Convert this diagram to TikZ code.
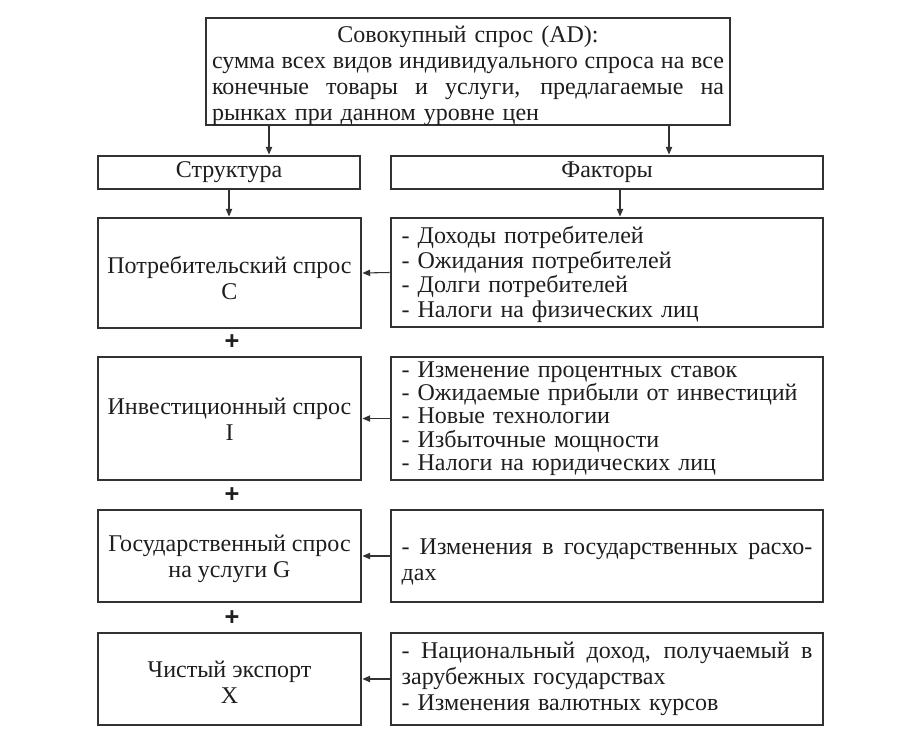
\documentclass[tikz,border=0pt]{standalone}
\usepackage{fontspec}
\setmainfont{Liberation Serif}
\newfontfamily\plusfont{Liberation Sans}
\usetikzlibrary{arrows.meta}
\definecolor{ink}{RGB}{30,30,30}
\definecolor{frame}{RGB}{50,50,50}
\newlength\topw \setlength\topw{384pt}
\newlength\facw \setlength\facw{308pt}
\newcommand\jline[2]{\leavevmode\hbox to #1{\spaceskip=0.25em plus 1fil minus 0.12em\relax #2}}
\begin{document}
\begin{tikzpicture}[x=0.75pt,y=-0.75pt,
  every node/.style={font=\fontsize{18}{18.2}\selectfont, text=ink},
  bx/.style 2 args={draw=frame, line width=2.2pt, fill=white, inner sep=0pt,
    minimum width=#1*0.75pt, minimum height=#2*0.75pt},
  lbl/.style={align=center, inner sep=0pt, font=\fontsize{18}{19.5}\selectfont},
  fac/.style={text width=308pt, align=left, inner sep=0pt},
  conn/.style={draw=frame, line width=0.8pt, -{Triangle[length=5.8pt,width=4.8pt]}},
  plus/.style={font=\plusfont\bfseries\fontsize{19}{19}\selectfont}
]
\useasboundingbox[fill=white] (0,0) rectangle (907,753);

% top box
\node[bx={524}{107},
  label={[text width=384pt, align=left, inner sep=0pt, yshift=-3pt,
          font=\fontsize{18}{19.5}\selectfont]center:{\makebox[\topw]{Совокупный спрос (AD):}\\
   \jline{\topw}{сумма всех видов индивидуального спроса на все}\\
   \jline{\topw}{конечные товары и услуги, предлагаемые на}\\
   рынках при данном уровне цен}}] (ad) at (468,71.5) {};

% second row
\node[bx={262}{33}, align=center] (st) at (229,172.5) {Структура};
\node[bx={432}{33}, align=center] (fa) at (607,172.5) {Факторы};

% left column
\node[bx={263}{110}, label={[lbl, yshift=-4pt]center:{Потребительский спрос\\C}}] (c) at (229.5,273) {};
\node[bx={263}{123}, label={[lbl, yshift=-0.5pt]center:{Инвестиционный спрос\\I}}] (i) at (229.5,418.5) {};
\node[bx={263}{92}, label={[lbl, yshift=-2.5pt]center:{Государственный спрос\\на услуги G}}] (g) at (229.5,556) {};
\node[bx={263}{92}, label={[lbl, yshift=-2.5pt]center:{Чистый экспорт\\X}}] (x) at (229.5,679) {};

% right column
\node[bx={432}{109}, label={[fac, yshift=-1.5pt, font=\fontsize{18}{18.6}\selectfont]center:{- Доходы потребителей\\- Ожидания потребителей\\- Долги потребителей\\- Налоги на физических лиц}}] (cf) at (607,272.5) {};
\node[bx={432}{123}, label={[fac, font=\fontsize{18}{17.5}\selectfont]center:{- Изменение процентных ставок\\- Ожидаемые прибыли от инвестиций\\- Новые технологии\\- Избыточные мощности\\- Налоги на юридических лиц}}] (if) at (607,418.5) {};
\node[bx={432}{92}, label={[fac, yshift=-4.5pt, font=\fontsize{18}{19}\selectfont]center:{\jline{\facw}{- Изменения в государственных расхо-}\\дах}}] (gf) at (607,556) {};
\node[bx={432}{92}, label={[fac, font=\fontsize{18}{19.6}\selectfont]center:{\jline{\facw}{- Национальный доход, получаемый в}\\зарубежных государствах\\- Изменения валютных курсов}}] (xf) at (607,679) {};

% plus signs
\node[plus] (p1) at (232,342) {+};
\node[plus] (p2) at (232,495) {+};
\node[plus] (p3) at (232,618) {+};

% connectors
\coordinate (xa) at (269,0);
\coordinate (xb) at (669,0);
\coordinate (xc) at (229,0);
\coordinate (xd) at (620,0);
\draw[conn] (ad.south -| xa) -- (st.north -| xa);
\draw[conn] (ad.south -| xb) -- (fa.north -| xb);
\draw[conn] (st.south -| xc) -- (c.north -| xc);
\draw[conn] (fa.south -| xd) -- (cf.north -| xd);
\draw[conn] (cf.west) -- (c.east);
\draw[conn] (if.west) -- (i.east);
\draw[conn] (gf.west) -- (g.east);
\draw[conn] (xf.west) -- (x.east);
\end{tikzpicture}
\end{document}
